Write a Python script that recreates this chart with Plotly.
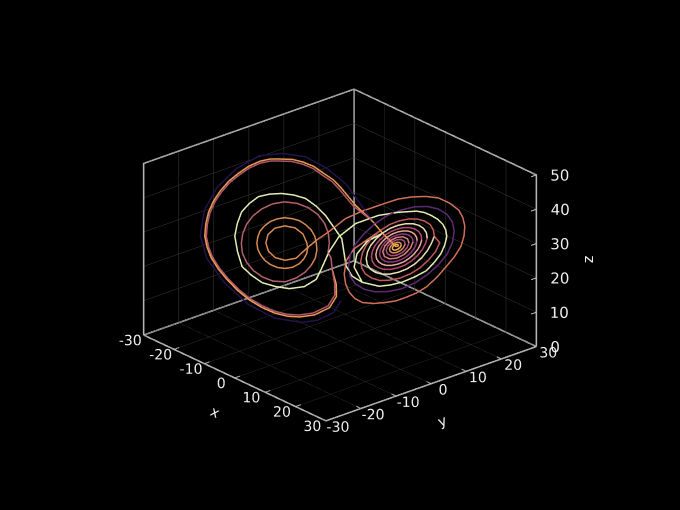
import plotly.graph_objects as go

# ticks
x_ticks = [-30, -20, -10, 0, 10, 20, 30]
y_ticks = [-30, -20, -10, 0, 10, 20, 30]
z_ticks = [0, 10, 20, 30, 40, 50]

# right wing spiral, turn by turn from the centre outwards
turn1_x = [7.73, 7.60, 7.40, 7.19, 7.02, 6.96, 7.04, 7.24, 7.52, 7.81, 8.03, 8.12, 8.06]
turn1_y = [9.99, 10.05, 9.97, 9.74, 9.41, 9.08, 8.82, 8.75, 8.88, 9.21, 9.66, 10.13, 10.49]
turn1_z = [27.26, 27.45, 27.57, 27.55, 27.39, 27.12, 26.78, 26.51, 26.36, 26.40, 26.63, 27.01, 27.43]

turn2_x = [8.06, 7.79, 7.40, 7.00, 6.70, 6.60, 6.74, 7.11, 7.63, 8.15, 8.53, 8.65, 8.51]
turn2_y = [10.49, 10.60, 10.42, 9.97, 9.35, 8.72, 8.27, 8.14, 8.40, 9.00, 9.81, 10.60, 11.22]
turn2_z = [27.43, 27.81, 28.02, 27.97, 27.65, 27.12, 26.53, 26.03, 25.77, 25.85, 26.28, 26.95, 27.71]

turn3_x = [8.51, 8.04, 7.39, 6.75, 6.29, 6.15, 6.39, 6.96, 7.74, 8.50, 9.05, 9.20, 8.97]
turn3_y = [11.22, 11.36, 11.03, 10.27, 9.29, 8.32, 7.64, 7.48, 7.89, 8.80, 9.97, 11.11, 11.89]
turn3_z = [27.71, 28.32, 28.64, 28.52, 28.00, 27.17, 26.25, 25.52, 25.15, 25.30, 25.92, 26.91, 27.92]

turn4_x = [8.97, 8.29, 7.38, 6.50, 5.87, 5.70, 6.03, 6.81, 7.85, 8.85, 9.56, 9.75, 9.47]
turn4_y = [11.89, 12.08, 11.58, 10.53, 9.17, 7.86, 6.97, 6.77, 7.34, 8.54, 10.09, 11.57, 12.62]
turn4_z = [27.92, 28.79, 29.20, 29.03, 28.30, 27.16, 25.94, 24.96, 24.49, 24.69, 25.53, 26.82, 28.15]

turn5_x = [9.47, 9.07, 8.59, 8.01, 7.42, 6.84, 6.30, 5.83, 5.51, 5.33, 5.30, 5.43, 5.73, 6.17, 6.72, 7.36, 8.01, 8.65,
           9.25, 9.77, 10.13, 10.32, 10.35, 10.21, 9.93]
turn5_y = [12.62, 12.84, 12.84, 12.61, 12.19, 11.62, 10.84, 9.99, 9.11, 8.24, 7.45, 6.81, 6.34, 6.10, 6.11, 6.36, 6.83,
           7.50, 8.34, 9.28, 10.25, 11.20, 12.08, 12.80, 13.37]
turn5_z = [28.15, 28.77, 29.25, 29.60, 29.77, 29.78, 29.54, 29.16, 28.60, 27.91, 27.15, 26.38, 25.61, 24.93, 24.39,
           24.00, 23.82, 23.85, 24.09, 24.51, 25.12, 25.88, 26.73, 27.59, 28.44]

turn6_x = [9.93, 9.44, 8.84, 8.13, 7.40, 6.68, 6.01, 5.44, 5.04, 4.83, 4.78, 4.95, 5.32, 5.87, 6.54, 7.33, 8.13, 8.92,
           9.66, 10.29, 10.72, 10.95, 11.00, 10.83, 10.49]
turn6_y = [13.37, 13.64, 13.64, 13.36, 12.85, 12.10, 11.17, 10.12, 9.03, 7.96, 6.98, 6.19, 5.62, 5.33, 5.34, 5.66, 6.23,
           7.06, 8.09, 9.24, 10.44, 11.60, 12.67, 13.56, 14.21]
turn6_z = [28.44, 29.20, 29.80, 30.23, 30.45, 30.42, 30.16, 29.68, 28.99, 28.13, 27.20, 26.24, 25.30, 24.46, 23.80,
           23.33, 23.10, 23.14, 23.43, 23.95, 24.72, 25.65, 26.67, 27.73, 28.72]

turn7_x = [10.49, 9.88, 9.14, 8.27, 7.38, 6.50, 5.68, 4.98, 4.50, 4.24, 4.19, 4.40, 4.85, 5.53, 6.34, 7.29, 8.26, 9.21,
           10.09, 10.85, 11.36, 11.64, 11.69, 11.51, 11.15]
turn7_y = [14.21, 14.54, 14.53, 14.18, 13.54, 12.63, 11.49, 10.21, 8.88, 7.58, 6.40, 5.44, 4.76, 4.41, 4.43, 4.82, 5.51,
           6.52, 7.76, 9.15, 10.58, 11.98, 13.26, 14.35, 15.20]
turn7_z = [28.72, 29.66, 30.39, 30.91, 31.16, 31.13, 30.81, 30.23, 29.38, 28.34, 27.21, 26.04, 24.91, 23.88, 23.09,
           22.53, 22.25, 22.31, 22.67, 23.30, 24.22, 25.34, 26.57, 27.84, 29.05]

turn8_x = [11.15, 10.42, 9.52, 8.47, 7.39, 6.33, 5.34, 4.49, 3.90, 3.59, 3.52, 3.77, 4.32, 5.14, 6.12, 7.28, 8.45, 9.61,
           10.67, 11.58, 12.20, 12.52, 12.57, 12.36, 12.0]
turn8_y = [15.20, 15.60, 15.59, 15.16, 14.40, 13.29, 11.92, 10.37, 8.76, 7.19, 5.75, 4.57, 3.73, 3.32, 3.35, 3.84, 4.70,
           5.91, 7.41, 9.09, 10.82, 12.49, 14.02, 15.34, 16.5]
turn8_z = [29.05, 30.18, 31.07, 31.69, 32.01, 31.96, 31.58, 30.88, 29.86, 28.60, 27.23, 25.80, 24.41, 23.18, 22.23,
           21.56, 21.25, 21.30, 21.74, 22.51, 23.62, 24.97, 26.45, 27.98, 29.5]

turn9_x = [12.0, 11.14, 10.1, 8.78, 7.5, 6.20, 5.0, 3.98, 3.3, 2.90, 2.8, 3.12, 3.8, 4.75, 5.9, 7.35, 8.8, 10.19,
           11.5, 12.62, 13.4, 13.80, 13.9, 13.53, 12.0]
turn9_y = [16.5, 16.96, 17.0, 16.43, 15.5, 14.17, 12.5, 10.64, 8.7, 6.81, 5.1, 3.66, 2.6, 2.12, 2.1, 2.71, 3.7, 5.21,
           7.0, 9.09, 11.2, 13.29, 15.2, 16.71, 16.5]
turn9_z = [29.5, 30.82, 31.9, 32.65, 33.0, 32.97, 32.5, 31.66, 30.4, 28.91, 27.3, 25.54, 23.8, 22.37, 21.2, 20.36,
           19.9, 20.02, 20.5, 21.47, 22.8, 24.49, 26.3, 28.18, 29.5]

purple_ring_x = [14.4, 13.06, 11.4, 9.51, 7.6, 5.74, 4.1, 2.62, 1.7, 1.19, 1.1, 1.61, 2.6, 3.94, 5.6, 7.49, 9.4, 11.26,
                 13.0, 14.38, 15.3, 15.81, 15.9, 15.39, 14.4]
purple_ring_y = [20.1, 20.7, 20.6, 19.75, 18.3, 16.3, 13.9, 11.16, 8.4, 5.75, 3.4, 1.46, 0.1, -0.5, -0.4, 0.45, 1.9, 3.9,
                 6.3, 9.04, 11.8, 14.45, 16.8, 18.74, 20.1]
purple_ring_z = [30.7, 32.64, 34.2, 35.24, 35.7, 35.56, 34.8, 33.54, 31.7, 29.56, 27.3, 24.85, 22.5, 20.56, 19.0, 17.96,
                 17.5, 17.64, 18.3, 19.66, 21.5, 23.64, 25.9, 28.35, 30.7]

# pale figure of eight across both wings
pale_x = [13.87, 12.98, 11.90, 10.53, 9.07, 7.79, 6.52, 3.96, 1.32, -1.19, -2.22, -1.99, -1.30, -0.82, -1.79, -3.80,
          -6.09, -8.51, -10.95, -13.33, -15.71, -17.84, -18.88, -19.55, -19.34, -18.74, -17.35, -15.66, -13.67, -11.51,
          -9.04, -6.58, -1.54, 2.16, 4.21, 6.39, 9.38, 10.92, 12.35, 13.61, 14.65, 14.92, 14.93, 14.52, 13.87]
pale_y = [18.44, 18.89, 18.98, 18.65, 17.98, 17.22, 16.18, 13.27, 9.86, 5.50, 1.59, -1.43, -3.97, -6.07, -8.63, -11.16,
          -13.09, -14.79, -15.74, -16.36, -15.61, -14.54, -12.93, -11.12, -9.10, -7.01, -5.02, -3.13, -1.38, 0.13,
          1.04, 1.60, 1.86, -0.13, -0.17, 0.81, 3.07, 4.96, 7.05, 9.45, 11.87, 13.95, 15.86, 17.30, 18.44]
pale_z = [29.57, 30.91, 32.08, 33.12, 33.91, 34.43, 34.66, 34.31, 33.54, 31.69, 28.81, 25.56, 22.33, 19.75, 18.16, 17.64,
          18.0, 18.72, 20.21, 21.97, 25.10, 28.30, 30.95, 33.43, 35.24, 36.73, 37.33, 37.53, 37.29, 36.64,
          35.08, 33.18, 28.40, 22.71, 20.62, 19.42, 18.69, 19.04, 19.70, 20.84, 22.22, 24.03, 25.93, 27.78, 29.57]

pale_link_x = [6.39, 3.47, 2.41, 2.52, 3.90]
pale_link_y = [0.81, 1.02, 2.75, 5.47, 8.76]
pale_link_z = [19.42, 22.55, 25.34, 27.95, 29.86]

# outer right ellipse, runs over to the left wing
salmon_x = [3.3, 1.40, 1.58, 2.79, 4.10, 5.60, 7.11, 8.69, 10.50, 12.26, 13.55, 14.66, 15.70, 16.49, 16.98, 17.17, 17.30,
            17.11, 16.40, 15.41, 14.14, 12.67, 10.52, 8.31, 6.18, 4.17, 2.44, 0.98, -1.67, -3.25, -4.29, -5.16]
salmon_y = [8.7, 2.76, 0.36, -1.22, -1.95, -2.19, -1.91, -1.13, 0.55, 2.62, 4.30, 6.23, 8.23, 10.32, 12.90, 15.38, 17.66,
            19.66, 21.15, 22.22, 22.77, 22.83, 22.08, 20.87, 18.98, 16.76, 14.53, 12.13, 7.60, 4.43, 0.51, -2.13]
salmon_z = [30.4, 26.36, 23.78, 20.99, 18.95, 17.21, 15.98, 15.18, 15.05, 15.36, 15.75, 16.57, 17.53, 18.83, 20.92, 23.21,
            25.36, 27.55, 29.75, 31.81, 33.63, 35.16, 36.56, 37.56, 37.80, 37.59, 37.09, 36.15, 34.27, 32.68, 29.80, 28.03]

# left wing spiral
left_inner_x = [-5.16, -5.76, -6.21, -7.62, -9.38, -11.10, -12.41, -13.05, -12.76, -11.54, -9.79, -7.90, -6.30, -5.61,
                -5.13, -4.97, -5.13, -5.72, -6.69, -7.96, -9.29, -10.61, -11.82, -12.91, -13.75, -14.31, -14.65, -14.54,
                -14.19, -13.44, -12.47, -11.20, -9.88, -8.50, -7.14, -5.89, -4.89, -4.00, -3.35, -3.14]
left_inner_y = [-2.13, -4.72, -7.15, -9.06, -10.33, -10.76, -10.38, -9.25, -7.56, -5.78, -4.37, -3.72, -3.99, -4.36,
                -5.07, -6.04, -7.22, -8.58, -9.84, -10.96, -11.74, -12.21, -12.35, -12.24, -11.79, -11.06, -10.10, -8.90,
                -7.62, -6.26, -5.00, -3.88, -2.95, -2.38, -2.05, -2.09, -2.51, -3.13, -4.13, -5.50]
left_inner_z = [28.03, 26.04, 24.06, 23.56, 24.05, 25.34, 27.03, 28.80, 30.20, 30.76, 30.42, 29.18, 27.31, 26.25,
                25.06, 23.93, 22.91, 22.14, 21.85, 22.00, 22.55, 23.40, 24.47, 25.67, 26.96, 28.25, 29.55, 30.64,
                31.57, 32.18, 32.47, 32.32, 31.93, 31.12, 30.09, 28.80, 27.38, 25.87, 24.22, 22.64]

left_mid_x = [-3.14, -3.30, -3.99, -5.17, -7.05, -9.12, -11.20, -13.14, -14.82, -16.06, -16.93, -17.41, -17.41, -16.89,
              -15.83, -14.28, -12.22, -10.06, -7.89, -5.90, -4.22, -2.95, -2.06, -0.99, 0.42]
left_mid_y = [-5.50, -7.14, -9.10, -11.11, -12.94, -14.20, -14.98, -15.25, -14.99, -14.21, -13.08, -11.56, -9.76, -7.74,
              -5.54, -3.48, -1.66, -0.34, 0.48, 0.68, 0.32, -0.48, -1.63, -1.69, -2.61]
left_mid_z = [22.64, 21.16, 19.89, 19.06, 19.11, 19.92, 21.22, 22.89, 24.83, 26.85, 28.85, 30.85, 32.65, 34.15,
              35.29, 35.80, 35.56, 34.72, 33.37, 31.58, 29.54, 27.47, 25.43, 24.30, 21.97]

# big left loop, then straight into the right wing centre
big_x = [0.42, 2.74, 4.12, 4.34, 2.92, 0.91, -1.01, -3.27, -5.79, -8.50, -11.27, -14.08, -16.60, -18.99, -20.77, -22.31,
         -23.55, -24.47, -24.97, -25.09, -24.91, -24.37, -23.59, -22.47, -21.15, -19.57, -17.83, -15.94, -13.84, -11.70,
         -9.45, -7.29, -3.26, 0.86, 4.26, 7.42, 7.73]
big_y = [-2.61, -3.43, -4.60, -6.76, -9.78, -12.32, -14.15, -15.83, -17.26, -18.47, -19.36, -19.96, -20.30, -20.31,
         -19.92, -19.22, -17.87, -16.27, -14.38, -12.35, -10.14, -7.90, -5.54, -3.30, -1.45, 0.17, 1.90, 3.30, 4.54, 5.36,
         6.27, 6.71, 7.25, 8.29, 8.80, 9.52, 9.99]
big_z = [21.97, 18.83, 16.28, 13.90, 12.30, 11.77, 11.86, 12.44, 13.53, 15.03, 16.91, 19.12, 21.30, 23.68, 25.85, 28.09,
         30.68, 33.20, 35.59, 37.74, 39.77, 41.47, 43.05, 44.17, 44.70, 44.74, 44.73, 44.24, 43.38, 42.06,
         40.72, 39.0, 35.51, 32.43, 29.54, 27.10, 27.26]

big2_x = [0.42, 2.36, 3.71, 3.92, 2.54, 0.58, -1.30, -3.50, -5.96, -8.60, -11.30, -14.04, -16.50, -18.83, -20.56, -22.06,
          -23.27, -24.17, -24.66, -24.77, -24.60, -24.07, -23.31, -22.22, -20.93, -19.39, -17.69, -15.85, -13.80, -11.72,
          -9.52, -7.42, -3.49, 0.86]
big2_y = [-2.61, -3.58, -4.72, -6.83, -9.77, -12.25, -14.03, -15.67, -17.07, -18.25, -19.11, -19.70, -20.03, -20.04,
          -19.66, -18.98, -17.66, -16.10, -14.26, -12.28, -10.12, -7.94, -5.64, -3.46, -1.65, -0.07, 1.61, 2.98, 4.19, 4.99,
          5.88, 6.30, 6.83, 8.29]
big2_z = [21.97, 19.06, 16.57, 14.25, 12.69, 12.17, 12.27, 12.83, 13.89, 15.35, 17.19, 19.34, 21.47, 23.79, 25.90, 28.08,
          30.61, 33.07, 35.40, 37.49, 39.48, 41.13, 42.67, 43.76, 44.28, 44.32, 44.30, 43.83, 42.99, 41.71,
          40.40, 38.72, 35.32, 32.43]

dark_x = [5.28, 5.51, 3.99, 1.84, -2.63, -8.21, -14.20, -19.45, -23.0, -25.31, -25.98, -25.21, -23.17, -20.07,
          -16.17, -11.64, -6.99, 1.7]
dark_y = [-4.25, -6.57, -9.80, -12.52, -16.27, -19.10, -20.69, -21.06, -19.90, -16.74, -12.55, -7.79, -2.86, 0.85,
          4.20, 6.40, 7.85, 8.4]
dark_z = [15.47, 12.92, 11.21, 10.64, 11.36, 14.11, 18.51, 23.39, 28.10, 33.57, 38.43, 42.42, 45.31, 45.92,
          45.37, 43.04, 39.84, 31.7]

segments = [
    (dark_x, dark_y, dark_z, '#24124a'),
    (purple_ring_x, purple_ring_y, purple_ring_z, '#5d2a72'),
    (big2_x, big2_y, big2_z, '#b0566a'),
    (left_mid_x, left_mid_y, left_mid_z, '#b5606c'),
    (left_inner_x, left_inner_y, left_inner_z, '#d98a50'),
    (big_x, big_y, big_z, '#ea9a50'),
    (salmon_x, salmon_y, salmon_z, '#d0705a'),
    (pale_x, pale_y, pale_z, '#e2efb0'),
    (pale_link_x, pale_link_y, pale_link_z, '#e2efb0'),
    (turn9_x, turn9_y, turn9_z, '#c05a5c'),
    (turn8_x, turn8_y, turn8_z, '#e8e0b4'),
    (turn7_x, turn7_y, turn7_z, '#b4486e'),
    (turn6_x, turn6_y, turn6_z, '#e8a898'),
    (turn5_x, turn5_y, turn5_z, '#8e3a78'),
    (turn4_x, turn4_y, turn4_z, '#d8807a'),
    (turn3_x, turn3_y, turn3_z, '#a84c78'),
    (turn2_x, turn2_y, turn2_z, '#e08a60'),
    (turn1_x, turn1_y, turn1_z, '#f2b544'),
]

fig = go.Figure()
for seg_x, seg_y, seg_z, seg_color in segments:
    fig.add_trace(go.Scatter3d(x=seg_x, y=seg_y, z=seg_z, mode='lines',
                               line=dict(color=seg_color, width=3), showlegend=False))

# bright box edges on the back panes and the floor front
lo, hi, top = -30, 30, 50
edge_x = [lo, lo, lo, None, lo, lo, hi, hi, None, lo, lo, None, lo, hi, hi, None, lo, hi]
edge_y = [lo, lo, hi, None, hi, hi, hi, hi, None, lo, hi, None, lo, lo, hi, None, hi, hi]
edge_z = [0, top, top, None, 0, top, top, 0, None, 0, 0, None, 0, 0, 0, None, 0, 0]
fig.add_trace(go.Scatter3d(x=edge_x, y=edge_y, z=edge_z, mode='lines',
                           line=dict(color='#c8c8c8', width=3), showlegend=False))

# short ticks pointing into the box, as on the original axes
tick_x, tick_y, tick_z = [], [], []
for t in x_ticks:
    tick_x += [t, t, None]
    tick_y += [lo, lo + 1.5, None]
    tick_z += [0, 0, None]
for t in y_ticks:
    tick_x += [hi, hi - 1.5, None]
    tick_y += [t, t, None]
    tick_z += [0, 0, None]
for t in z_ticks:
    tick_x += [hi, hi, None]
    tick_y += [hi, hi - 1.5, None]
    tick_z += [t, t, None]
fig.add_trace(go.Scatter3d(x=tick_x, y=tick_y, z=tick_z, mode='lines',
                           line=dict(color='#c8c8c8', width=2), showlegend=False))

# z labels sit on the right hand edge, plotly would put them on the left
fig.add_trace(go.Scatter3d(x=[hi] * len(z_ticks), y=[hi] * len(z_ticks), z=z_ticks, mode='text',
                           text=[str(t) for t in z_ticks], textposition='middle right',
                           textfont=dict(family='DejaVu Sans', size=15, color='#eeeeee'), showlegend=False))


def axis_style(ticks, rng, show_labels=True):
    return dict(
        title=dict(text=''),
        range=rng,
        tickmode='array',
        tickvals=ticks,
        ticktext=[str(t) for t in ticks],
        tickangle=0,
        tickfont=dict(family='DejaVu Sans', size=13, color='#eeeeee'),
        showticklabels=show_labels,
        ticks='',
        showgrid=True,
        gridcolor='#3a3a3a',
        gridwidth=1,
        zeroline=False,
        showline=False,
        showbackground=False,
        showspikes=False,
    )


label_font = dict(family='DejaVu Sans', size=14, color='#eeeeee')

fig.update_layout(
    width=680,
    height=510,
    margin=dict(l=0, r=0, t=0, b=0),
    paper_bgcolor='black',
    plot_bgcolor='black',
    showlegend=False,
    scene=dict(
        bgcolor='black',
        domain=dict(x=[0, 1], y=[0, 1]),
        xaxis=axis_style(x_ticks, [-30, 30]),
        yaxis=axis_style(y_ticks, [-30, 30]),
        zaxis=axis_style(z_ticks, [0, 50], show_labels=False),
        aspectmode='manual',
        aspectratio=dict(x=1.092, y=1.092, z=0.737),
        camera=dict(
            eye=dict(x=1.27, y=-1.10, z=0.75),
            center=dict(x=0, y=0, z=0),
            up=dict(x=0, y=0, z=1),
            projection=dict(type='orthographic'),
        ),
    ),
    annotations=[
        dict(text='x', x=215 / 680, y=1 - 412 / 510, xref='paper', yref='paper', xanchor='center', yanchor='middle',
             showarrow=False, textangle=25, font=label_font),
        dict(text='y', x=442 / 680, y=1 - 421 / 510, xref='paper', yref='paper', xanchor='center', yanchor='middle',
             showarrow=False, textangle=-20, font=label_font),
        dict(text='z', x=588 / 680, y=1 - 260 / 510, xref='paper', yref='paper', xanchor='center', yanchor='middle',
             showarrow=False, textangle=-90, font=label_font),
    ],
)

# the page margin would otherwise show as a white frame
fig.write_html("out.html", config=dict(displayModeBar=False),
               post_script="document.body.style.margin='0';document.body.style.background='black';")
